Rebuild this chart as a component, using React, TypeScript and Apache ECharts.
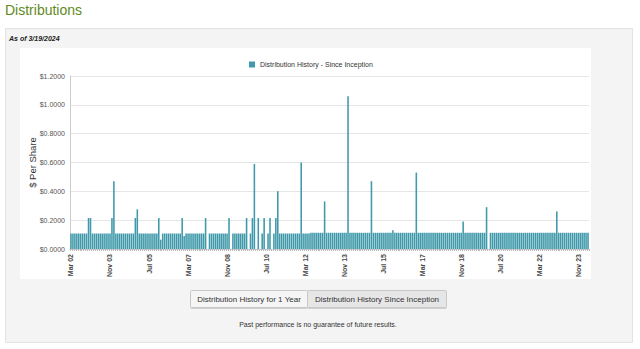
import React, { useEffect, useRef } from "react";
import * as echarts from "echarts";

const FONT = "'Liberation Sans', Arial, Helvetica, sans-serif";

const monthNames = ["Jan", "Feb", "Mar", "Apr", "May", "Jun", "Jul", "Aug", "Sep", "Oct", "Nov", "Dec"];
const startYear = 2002;
const startMonth = 2; // March
const monthCount = 266; // Mar 2002 .. Apr 2024

// Monthly distribution ($ per share), Mar 2002 -> Apr 2024, one row per calendar year
const dist2002 = [0.1075, 0.1075, 0.1075, 0.1075, 0.1075, 0.1075, 0.1075, 0.1075, 0.1075, 0.215];
const dist2003 = [0.215, 0.1075, 0.1075, 0.1075, 0.1075, 0.1075, 0.1075, 0.1075, 0.1075, 0.1075, 0.1075, 0.215];
const dist2004 = [0.47, 0.1075, 0.1075, 0.1075, 0.1075, 0.1075, 0.1075, 0.1075, 0.1075, 0.1075, 0.1075, 0.215];
const dist2005 = [0.275, 0.1075, 0.1075, 0.1075, 0.1075, 0.1075, 0.1075, 0.1075, 0.1075, 0.1075, 0.1075, 0.215];
const dist2006 = [0.065, 0.1075, 0.1075, 0.1075, 0.1075, 0.1075, 0.1075, 0.1075, 0.1075, 0.1075, 0.1075, 0.215];
const dist2007 = [0.09, 0.1075, 0.1075, 0.1075, 0.1075, 0.1075, 0.1075, 0.1075, 0.1075, 0.1075, 0.1075, 0.215];
const dist2008 = [0, 0.1075, 0.1075, 0.1075, 0.1075, 0.1075, 0.1075, 0.1075, 0.1075, 0.1075, 0.1075, 0.215];
const dist2009 = [0, 0.1075, 0.1075, 0.1075, 0.1075, 0.1075, 0.1075, 0.1075, 0.215, 0, 0.1075, 0.215];
const dist2010 = [0.59, 0, 0.215, 0, 0.1075, 0.215, 0, 0.1075, 0.215, 0, 0.1075, 0.215];
const dist2011 = [0.4, 0.1075, 0.1075, 0.1075, 0.1075, 0.1075, 0.1075, 0.1075, 0.1075, 0.1075, 0.1075, 0.1075];
const dist2012 = [0.6, 0.1075, 0.1075, 0.1075, 0.1075, 0.1125, 0.1125, 0.1125, 0.1125, 0.1125, 0.1125, 0.1125];
const dist2013 = [0.33, 0.1125, 0.1125, 0.1125, 0.1125, 0.1125, 0.1125, 0.1125, 0.1125, 0.1125, 0.1125, 0.1125];
const dist2014 = [1.06, 0.1125, 0.1125, 0.1125, 0.1125, 0.1125, 0.1125, 0.1125, 0.1125, 0.1125, 0.1125, 0.1125];
const dist2015 = [0.47, 0.1125, 0.1125, 0.1125, 0.1125, 0.1125, 0.1125, 0.1125, 0.1125, 0.1125, 0.1125, 0.13];
const dist2016 = [0.1125, 0.1125, 0.1125, 0.1125, 0.1125, 0.1125, 0.1125, 0.1125, 0.1125, 0.1125, 0.1125, 0.53];
const dist2017 = [0.1125, 0.1125, 0.1125, 0.1125, 0.1125, 0.1125, 0.1125, 0.1125, 0.1125, 0.1125, 0.1125, 0.1125];
const dist2018 = [0.1125, 0.1125, 0.1125, 0.1125, 0.1125, 0.1125, 0.1125, 0.1125, 0.1125, 0.1125, 0.1125, 0.19];
const dist2019 = [0.1125, 0.1125, 0.1125, 0.1125, 0.1125, 0.1125, 0.1125, 0.1125, 0.1125, 0.1125, 0.1125, 0.29];
const dist2020 = [0, 0.1125, 0.1125, 0.1125, 0.1125, 0.1125, 0.1125, 0.1125, 0.1125, 0.1125, 0.1125, 0.1125];
const dist2021 = [0.1125, 0.1125, 0.1125, 0.1125, 0.1125, 0.1125, 0.1125, 0.1125, 0.1125, 0.1125, 0.1125, 0.1125];
const dist2022 = [0.1125, 0.1125, 0.1125, 0.1125, 0.1125, 0.1125, 0.1125, 0.1125, 0.1125, 0.1125, 0.1125, 0.26];
const dist2023 = [0.1125, 0.1125, 0.1125, 0.1125, 0.1125, 0.1125, 0.1125, 0.1125, 0.1125, 0.1125, 0.1125, 0.1125];
const dist2024 = [0.1125, 0.1125, 0.1125, 0.1125];

const distributions = [
  ...dist2002, ...dist2003, ...dist2004, ...dist2005, ...dist2006, ...dist2007,
  ...dist2008, ...dist2009, ...dist2010, ...dist2011, ...dist2012, ...dist2013,
  ...dist2014, ...dist2015, ...dist2016, ...dist2017, ...dist2018, ...dist2019,
  ...dist2020, ...dist2021, ...dist2022, ...dist2023, ...dist2024,
];

const categories: string[] = [];
for (let i = 0; i < monthCount; i++) {
  const m = (startMonth + i) % 12;
  const y = startYear + Math.floor((startMonth + i) / 12);
  categories.push(`${monthNames[m]} ${String(y % 100).padStart(2, "0")}`);
}

const yTicks = [0, 0.2, 0.4, 0.6, 0.8, 1.0, 1.2];

const seriesName = "Distribution History - Since Inception";
const titleText = "Distributions";
const asOfText = "As of 3/19/2024";
const button1 = "Distribution History for 1 Year";
const button2 = "Distribution History Since Inception";
const footerText = "Past performance is no guarantee of future results.";

export default function App() {
  const ref = useRef<HTMLDivElement>(null);
  useEffect(() => {
    if (!ref.current) return;
    const chart = echarts.init(ref.current, null, { renderer: "svg" });
    chart.setOption({
      animation: false,
      backgroundColor: "#ffffff",
      textStyle: { fontFamily: FONT },
      graphic: {
        elements: [
          { type: "text", left: 5, top: 3, z: -5, style: { text: titleText, fill: "#5f8a24", font: `14px ${FONT}` } },
          { type: "rect", shape: { x: 5.5, y: 28.5, width: 627, height: 314 }, z: -10, style: { fill: "#f4f4f4", stroke: "#e3e3e3", lineWidth: 1 } },
          { type: "text", left: 9, top: 35, z: -5, style: { text: asOfText, fill: "#222", font: `italic bold 7px ${FONT}` } },
          { type: "rect", shape: { x: 20, y: 48, width: 571, height: 231 }, z: -9, style: { fill: "#ffffff" } },
          { type: "rect", shape: { x: 190.5, y: 290.5, width: 117, height: 17, r: 1 }, z: -8, style: { fill: "#f5f5f5", stroke: "#c8c8c8", lineWidth: 1, shadowBlur: 1, shadowColor: "rgba(0,0,0,0.15)", shadowOffsetY: 1 } },
          { type: "rect", shape: { x: 307.5, y: 290.5, width: 139, height: 17, r: 1 }, z: -8, style: { fill: "#e6e6e6", stroke: "#c8c8c8", lineWidth: 1, shadowBlur: 1, shadowColor: "rgba(0,0,0,0.15)", shadowOffsetY: 1 } },
          { type: "text", x: 249, y: 299, z: -5, style: { text: button1, fill: "#333", font: `8px ${FONT}`, align: "center", verticalAlign: "middle" } },
          { type: "text", x: 377, y: 299, z: -5, style: { text: button2, fill: "#333", font: `8px ${FONT}`, align: "center", verticalAlign: "middle" } },
          { type: "text", x: 318, y: 324, z: -5, style: { text: footerText, fill: "#333", font: `7px ${FONT}`, align: "center", verticalAlign: "middle" } },
        ],
      },
      legend: {
        show: true,
        left: 244,
        top: 56,
        itemWidth: 6,
        itemHeight: 6,
        icon: "rect",
        z: 10,
        textStyle: { fontSize: 7, color: "#333", fontFamily: FONT },
        data: [seriesName],
      },
      grid: { left: 70, right: 51, top: 76, bottom: 100, containLabel: false },
      xAxis: {
        type: "category",
        data: categories,
        boundaryGap: true,
        z: 5,
        axisLine: { show: true, lineStyle: { color: "#cccccc" } },
        axisTick: { show: true, interval: 0, length: 2, lineStyle: { color: "#bbbbbb" } },
        axisLabel: {
          interval: 19,
          rotate: 90,
          fontSize: 7,
          fontWeight: "bold",
          color: "#484848",
          margin: 5,
          fontFamily: FONT,
        },
      },
      yAxis: {
        type: "value",
        min: yTicks[0],
        max: yTicks[yTicks.length - 1],
        interval: 0.2,
        z: 5,
        name: "$ Per Share",
        nameLocation: "middle",
        nameGap: 33,
        nameMoveOverlap: false,
        nameTextStyle: { fontSize: 9.5, color: "#333", fontFamily: FONT },
        axisLine: { show: true, lineStyle: { color: "#cccccc" } },
        axisTick: { show: false },
        splitLine: { show: true, lineStyle: { color: "#e6e6e6" } },
        axisLabel: {
          fontSize: 7,
          color: "#555",
          margin: 5,
          fontFamily: FONT,
          formatter: (v: number) => "$" + v.toFixed(4),
        },
      },
      series: [
        {
          name: seriesName,
          type: "bar",
          data: distributions,
          barCategoryGap: "20%",
          itemStyle: { color: "#3f99aa" },
          z: 6,
        },
      ],
    });
    return () => chart.dispose();
  }, []);
  return (
    <div
      ref={ref}
      style={{ position: "fixed", left: 0, top: 0, width: 640, height: 349 }}
    />
  );
}
